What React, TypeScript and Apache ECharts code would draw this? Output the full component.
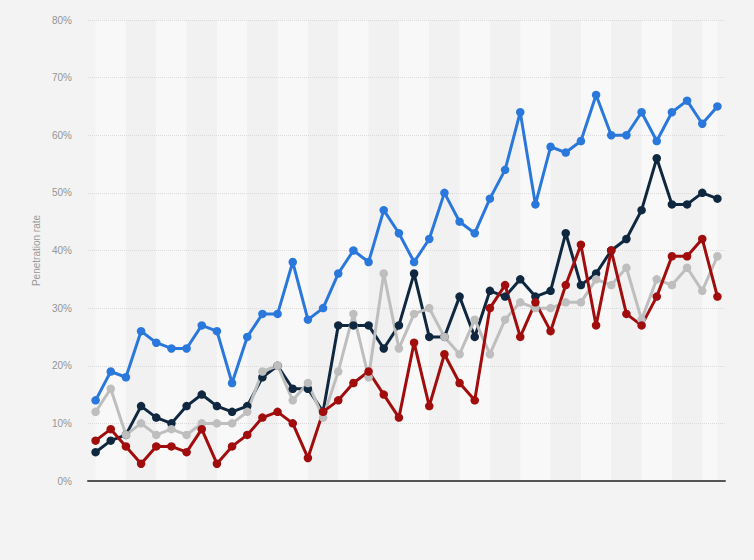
import React, { useEffect, useRef } from "react";
import * as echarts from "echarts";

const categories: string[] = Array.from({ length: 42 }, (_, i) => `P${i + 1}`);
const bandCategories: string[] = Array.from({ length: 41 }, (_, i) => `B${i + 1}`);

const seriesBlue = [14, 19, 18, 26, 24, 23, 23, 27, 26, 17, 25, 29, 29, 38, 28, 30, 36, 40, 38, 47, 43, 38, 42, 50, 45, 43, 49, 54, 64, 48, 58, 57, 59, 67, 60, 60, 64, 59, 64, 66, 62, 65];
const seriesNavy = [5, 7, 8, 13, 11, 10, 13, 15, 13, 12, 13, 18, 20, 16, 16, 12, 27, 27, 27, 23, 27, 36, 25, 25, 32, 25, 33, 32, 35, 32, 33, 43, 34, 36, 40, 42, 47, 56, 48, 48, 50, 49];
const seriesGray = [12, 16, 8, 10, 8, 9, 8, 10, 10, 10, 12, 19, 20, 14, 17, 11, 19, 29, 18, 36, 23, 29, 30, 25, 22, 28, 22, 28, 31, 30, 30, 31, 31, 35, 34, 37, 28, 35, 34, 37, 33, 39];
const seriesRed = [7, 9, 6, 3, 6, 6, 5, 9, 3, 6, 8, 11, 12, 10, 4, 12, 14, 17, 19, 15, 11, 24, 13, 22, 17, 14, 30, 34, 25, 31, 26, 34, 41, 27, 40, 29, 27, 32, 39, 39, 42, 32];

const yTicks = { min: 0, max: 80, interval: 10 };

export default function App() {
  const ref = useRef<HTMLDivElement>(null);
  useEffect(() => {
    document.body.style.margin = "0";
    if (!ref.current) return;
    const chart = echarts.init(ref.current, undefined, { renderer: "svg" });
    const mk = (name: string, data: number[], color: string) => ({
      name,
      type: "line",
      data,
      xAxisIndex: 0,
      yAxisIndex: 0,
      symbol: "circle",
      symbolSize: 8.5,
      lineStyle: { color, width: 3 },
      itemStyle: { color },
      emphasis: { disabled: true },
    });
    chart.setOption({
      animation: false,
      backgroundColor: "#f3f3f3",
      textStyle: { fontFamily: "Liberation Sans, Arial, sans-serif" },
      grid: [
        { left: 88, right: 29, top: 20, bottom: 79, containLabel: false },
        { left: 95.6, right: 36.5, top: 20, bottom: 79, containLabel: false },
      ],
      xAxis: [
        {
          type: "category",
          gridIndex: 0,
          data: categories,
          boundaryGap: true,
          z: 3,
          axisLine: { show: true, lineStyle: { color: "#555555", width: 2 } },
          axisTick: { show: false },
          axisLabel: { show: false },
          splitLine: { show: false },
        },
        {
          type: "category",
          gridIndex: 1,
          data: bandCategories,
          boundaryGap: true,
          z: 0,
          axisLine: { show: false },
          axisTick: { show: false },
          axisLabel: { show: false },
          splitLine: { show: false },
          splitArea: {
            show: true,
            interval: 1,
            areaStyle: { color: ["#f8f8f8", "#f1f1f1"] },
          },
        },
      ],
      yAxis: [
        {
          type: "value",
          gridIndex: 0,
          min: yTicks.min,
          max: yTicks.max,
          interval: yTicks.interval,
          z: 1,
          name: "Penetration rate",
          nameLocation: "middle",
          nameRotate: 90,
          nameGap: 44,
          nameTextStyle: { color: "#999999", fontSize: 10 },
          axisLine: { show: false },
          axisTick: { show: false },
          axisLabel: {
            formatter: "{value}%",
            color: "#959595",
            fontSize: 10,
            margin: 16,
          },
          splitLine: {
            show: true,
            lineStyle: { color: "#dadada", type: [1, 1], width: 1 },
          },
        },
        {
          type: "value",
          gridIndex: 1,
          min: yTicks.min,
          max: yTicks.max,
          interval: yTicks.interval,
          show: false,
          splitLine: { show: false },
        },
      ],
      series: [
        mk("Navy", seriesNavy, "#10283f"),
        mk("Gray", seriesGray, "#bebebe"),
        mk("Red", seriesRed, "#a10c0c"),
        mk("Blue", seriesBlue, "#2a78dc"),
      ],
    });
    return () => chart.dispose();
  }, []);
  return <div ref={ref} style={{ width: 754, height: 560 }} />;
}
